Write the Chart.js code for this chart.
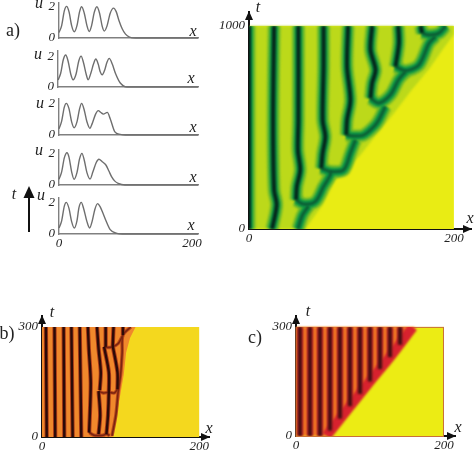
<!DOCTYPE html>
<html>
<head>
<meta charset="utf-8">
<script src="https://cdn.jsdelivr.net/npm/chart.js@4"></script>
<style>
    html, body { margin: 0; padding: 0; background: #fff; overflow: hidden; }
    canvas { position: absolute; }
    .lbl { position: absolute; transform: translate(-50%, -50%); font-family: "Liberation Serif", serif; color: #222; line-height: 1; white-space: nowrap; }
    .it { font-style: italic; font-size: 16px; }
    .pn { font-size: 18px; }
</style>
</head>
<body>
<svg style="position:absolute;left:20px;top:180px" width="18" height="56">
    <line x1="9" y1="16" x2="9" y2="52" stroke="#111" stroke-width="2"/>
    <polygon points="9,6 3.5,18 14.5,18" fill="#111"/>
</svg>
<script>
// Profile plots, u against x, top plot is the latest time
const uTicks = [0, 2];
const profileTicks = [0, 200];
const profile1 = [[0,.35],[4,.8],[8,1.75],[11.5,2.04],[15,1.7],[19,.8],[23,.4],[27,.8],[31,1.7],[34,2.02],[38,1.6],[42,.8],[45.5,.42],[49,.8],[53,1.65],[57,2.02],[61,1.6],[65,.75],[68,.45],[72,.75],[77,1.6],[82,1.93],[86,1.7],[90,1.15],[95,.6],[100,.25],[106,.06],[115,0],[209,0]];
const profile2 = [[0,.45],[4,.9],[8,1.8],[11.5,2.09],[15,1.7],[19,.85],[22.5,.47],[27,.85],[31,1.7],[34.5,2.02],[38,1.6],[42,.85],[45,.47],[49,.9],[53,1.5],[56.5,1.83],[60,1.5],[63,1],[66,.8],[70,1.15],[73,1.6],[76.5,1.87],[81,1.5],[85.7,.9],[93,.26],[103,0],[209,0]];
const profile3 = [[0,.4],[4,.9],[8,1.8],[11,2.04],[15,1.7],[19,.85],[22.7,.47],[27,.85],[31,1.7],[34,2.04],[38,1.6],[42,.85],[46.5,.43],[50,.75],[55,1.35],[59,1.57],[63,1.45],[66.7,1.35],[72.7,1.46],[77,1.05],[84,.2],[92,.04],[100,0],[209,0]];
const profile4 = [[0,.37],[4,.85],[8,1.75],[12,2.08],[15,1.8],[19,.85],[22.7,.37],[27,.8],[31,1.7],[34.5,2.04],[38,1.6],[42,.8],[46.7,.39],[51,.85],[56,1.45],[60,1.66],[65,1.5],[70.5,1.29],[75,.9],[79,.54],[84,.25],[89,.1],[99,0],[209,0]];
const profile5 = [[0,.39],[4,.85],[8,1.8],[11,2.04],[15,1.65],[19,.8],[23,.39],[27,.85],[30,1.7],[33.5,2.04],[37,1.65],[42,.8],[46,.39],[50,.85],[54,1.6],[58,1.96],[62,1.75],[66,1.35],[70,.92],[77,.28],[87,.04],[95,0],[209,0]];

// Panel a) x against t, green map
const aTicksX = [0, 200];
const aTicksT = [0, 1000];
const aFront = [[0,0],[55,0],[72,120],[84,240],[108,360],[122,450],[140,560],[158,680],[176,790],[190,890],[200,960],[200,1000]];
const aStripe0 = [[0,0],[0,1000]];
const aStripe1 = [[22.5,0],[27,118],[24.5,192],[23.5,537],[24.5,1000]];
const aStripe2 = [[46,143],[46.7,209],[50,291],[47.7,389],[48.2,537],[48.2,1000]];
const aStripe3 = [[70.6,299],[71.9,373],[74.5,455],[71.9,537],[72.8,800],[72.8,1000]];
const aStripe4 = [[95,463],[95.7,537],[99,636],[95.7,800],[96.7,1000]];
const aStripe5 = [[118.6,644],[120.2,718],[123.5,784],[118.6,882],[120.2,1000]];
const aStripe6 = [[143,800],[146.3,915],[145.7,1000]];
const aStripe7 = [[169,965],[167.6,1000]];
const aStem = [[47.7,0],[52.3,69],[58,113]];
const aArm1 = [[46,143],[53,123],[64.7,135],[72.8,209],[79.4,266],[79.4,283]];
const aArm2 = [[70.6,299],[79.4,283],[92.4,291],[99,373],[103.9,439]];
const aArm3 = [[95,463],[103.9,458],[112,463],[121.8,504],[126.7,537],[133,603]];
const aArm4 = [[118.6,644],[126.7,620],[138,661],[146,735],[152.9,776]];
const aArm5 = [[143,800],[152.9,780],[165.9,808],[175.7,915],[182,948]];
const aArm6 = [[169,965],[175.7,956],[185.5,965],[192,1000]];

// Panel b) orange map
const bTicksX = [0, 200];
const bTicksT = [0, 300];
const bFront = [[0,0],[90,0],[95,60],[100,120],[104,170],[107,230],[112,270],[119,300],[200,300]];
const bStripe1 = [[6,0],[5,300]];
const bStripe2 = [[16.8,0],[15.9,300]];
const bStripe3 = [[28.4,0],[27.5,300]];
const bStripe4 = [[39,0],[37.4,300]];
const bStripe5 = [[50,0],[48,300]];
const bStripe6 = [[60,12],[62,147],[59.6,240],[58.4,300]];
const bStripe7 = [[73.5,128],[74.8,177],[72,240],[70,300]];
const bStripe8 = [[72,8],[74,60],[72,125]];
const bStripe9 = [[82,8],[84,60],[85,122],[85,177],[79,246]];
const bStripe10 = [[96,130],[96,177],[90,248]];
const bStripe11 = [[81,246],[81,300]];
const bStripe12 = [[90,248],[91,300]];
const bStripe13 = [[103,278],[103,300]];
const bArm0 = [[60,12],[66,5],[72,4],[78,5],[82,8],[86,4]];
const bArm1 = [[89,3],[94,60],[97,125],[100,170],[102,230],[103,278],[113,300]];
const bArm2 = [[72,125],[78,120],[85,122],[92,120],[96,130]];
const bArm3 = [[79,246],[84,244],[90,246],[97,255],[103,278]];

// Panel c) red map
const cTicksX = [0, 200];
const cTicksT = [0, 300];
const cFront = [[0,0],[40,0],[47,15],[100,150],[127,217],[161,300],[200,300]];
const cEdge = [[41,0],[47,15],[100,150],[127,217],[158,300]];
const cStripe1 = [[5.4,0],[5.4,300]];
const cStripe2 = [[18.9,0],[18.9,300]];
const cStripe3 = [[32.4,0],[32.4,300]];
const cStripe4 = [[45.9,15],[45.9,300]];
const cStripe5 = [[59.4,48],[59.4,300]];
const cStripe6 = [[72.9,82],[72.9,300]];
const cStripe7 = [[86.5,116],[86.5,300]];
const cStripe8 = [[100,150],[100,300]];
const cStripe9 = [[113.5,184],[113.5,300]];
const cStripe10 = [[127,217],[127,300]];
const cStripe11 = [[140.6,251],[140.6,300]];

const serifFont = { family: '"Liberation Serif", serif', style: 'italic', size: 13 };
const toPoints = list => list.map(p => ({ x: p[0], y: p[1] }));

function addCanvas(left, top, width, height) {
    const c = document.createElement('canvas');
    c.width = width;
    c.height = height;
    c.style.left = left + 'px';
    c.style.top = top + 'px';
    document.body.appendChild(c);
    return c.getContext('2d');
}

function addLabel(text, x, y, cls) {
    const s = document.createElement('span');
    s.className = 'lbl ' + cls;
    s.textContent = text;
    s.style.left = x + 'px';
    s.style.top = y + 'px';
    document.body.appendChild(s);
}

function axisOptions(min, max, ticks, fit, color, width, showLabels, position) {
    return {
        type: 'linear',
        position: position,
        min: min,
        max: max,
        grid: { display: false, drawTicks: false, tickLength: 0 },
        border: { color: color, width: width },
        afterBuildTicks: s => { s.ticks = ticks.map(v => ({ value: v })); },
        afterFit: s => {
            if (position === 'left') s.width = fit; else s.height = fit;
            // no room for half labels, the plot box is set by hand
            s.paddingTop = s.paddingBottom = s.paddingLeft = s.paddingRight = 0;
        },
        ticks: {
            display: showLabels,
            autoSkip: false,
            maxRotation: 0,
            padding: position === 'left' ? 4 : 2,
            color: '#222',
            font: serifFont,
            callback: v => String(v)
        }
    };
}

// Small u(x) profile, the scale runs a little past 200 as the axis line does
function profileChart(data, axisLeft, axisTop, base, showX) {
    const bottomRoom = showX ? 22 : 8;
    const ctx = addCanvas(0, axisTop - 3, 202, base - axisTop + 3 + bottomRoom);
    new Chart(ctx, {
        type: 'line',
        data: {
            datasets: [{
                data: toPoints(data),
                borderColor: '#6e6e6e',
                borderWidth: 1.4,
                pointRadius: 0,
                cubicInterpolationMode: 'monotone',
                clip: 2
            }]
        },
        options: {
            responsive: false,
            animation: false,
            layout: { autoPadding: false, padding: { top: 3, right: 4 } },
            plugins: { legend: { display: false }, tooltip: { enabled: false } },
            scales: {
                x: axisOptions(0, 209, profileTicks, bottomRoom, '#808080', 1.4, showX, 'bottom'),
                y: axisOptions(0, (base - axisTop) / 15.5, uTicks, axisLeft, '#808080', 1.4, true, 'left')
            }
        }
    });
}

// Plot background up to the data limits, soft edges and arrow heads on the axes
const heatPlugin = {
    id: 'heat',
    beforeDatasetsDraw(chart, args, opts) {
        const c = chart.ctx, sx = chart.scales.x, sy = chart.scales.y;
        const l = sx.getPixelForValue(0), r = sx.getPixelForValue(opts.xEnd);
        const t = sy.getPixelForValue(opts.tEnd), b = sy.getPixelForValue(0);
        c.save();
        c.fillStyle = opts.bg;
        c.fillRect(l, t, r - l, b - t);
        if (opts.outline) {
            c.strokeStyle = opts.outline;
            c.lineWidth = 1;
            c.strokeRect(l, t + 0.5, r - l - 0.5, b - t);
        }
        c.restore();
        c.filter = 'blur(' + opts.blur + 'px)';
    },
    afterDatasetsDraw(chart) {
        chart.ctx.filter = 'none';
    },
    afterDraw(chart) {
        const c = chart.ctx, a = chart.chartArea;
        c.save();
        c.fillStyle = '#111';
        c.beginPath();
        c.moveTo(a.left, a.top - 1);
        c.lineTo(a.left - 4, a.top + 8);
        c.lineTo(a.left + 4, a.top + 8);
        c.closePath();
        c.moveTo(a.right + 1, a.bottom);
        c.lineTo(a.right - 8, a.bottom - 4);
        c.lineTo(a.right - 8, a.bottom + 4);
        c.closePath();
        c.fill();
        c.restore();
    }
};

function lineLayer(list, color, width, inset) {
    return list.map(s => ({
        data: toPoints(s),
        borderColor: color,
        borderWidth: width,
        pointRadius: 0,
        tension: 0.3,
        fill: false,
        clip: { left: 0, right: 0, bottom: 0, top: -inset }
    }));
}

function heatChart(box, limits, ticksX, ticksT, front, fillColor, bg, layers, blur, outline) {
    const ctx = addCanvas(box.left, box.top, box.width, box.height);
    const frontSet = {
        data: toPoints(front),
        borderColor: 'rgba(0,0,0,0)',
        borderWidth: 0,
        backgroundColor: fillColor,
        pointRadius: 0,
        tension: 0,
        fill: { value: limits.tEnd },
        clip: 0
    };
    // Chart.js paints the first dataset last, so the list runs top layer first
    const sets = [frontSet].concat(...layers).reverse();
    new Chart(ctx, {
        type: 'line',
        data: { datasets: sets },
        options: {
            responsive: false,
            animation: false,
            layout: { autoPadding: false, padding: { top: 4, right: 3 } },
            plugins: {
                legend: { display: false },
                tooltip: { enabled: false },
                heat: { bg: bg, xEnd: limits.xEnd, tEnd: limits.tEnd, blur: blur, outline: outline }
            },
            scales: {
                x: axisOptions(0, limits.xMax, ticksX, box.bottomRoom, '#111', 2, true, 'bottom'),
                y: axisOptions(0, limits.tMax, ticksT, box.leftRoom, '#111', 2, true, 'left')
            }
        },
        plugins: [heatPlugin]
    });
}

profileChart(profile1, 59, 3, 38, false);
profileChart(profile2, 58, 51, 87.5, false);
profileChart(profile3, 59, 99, 135, false);
profileChart(profile4, 59, 150, 185, false);
profileChart(profile5, 59, 198, 234, true);

const aStripes = [aStripe0, aStripe1, aStripe2, aStripe3, aStripe4, aStripe5, aStripe6, aStripe7];
const aArms = [aStem, aArm1, aArm2, aArm3, aArm4, aArm5, aArm6];
heatChart(
    { left: 215, top: 8, width: 259, height: 244, leftRoom: 34, bottomRoom: 23 },
    { xEnd: 200, tEnd: 1000, xMax: 216.7, tMax: 1069 },
    aTicksX, aTicksT, aFront, '#bcd91a', '#e9ec14',
    [
        lineLayer(aStripes.concat(aArms), '#6dba2c', 13, 14),
        lineLayer(aStripes.concat(aArms), '#0d9a46', 8, 14),
        lineLayer(aArms, '#0c5a34', 3, 14),
        lineLayer(aStripes, '#04241a', 4, 14)
    ],
    0.9
);

const bStripes = [bStripe1, bStripe2, bStripe3, bStripe4, bStripe5, bStripe6, bStripe7, bStripe8, bStripe9, bStripe10, bStripe11, bStripe12, bStripe13];
const bArms = [bArm0, bArm1, bArm2, bArm3];
heatChart(
    { left: 0, top: 312, width: 212, height: 140, leftRoom: 42, bottomRoom: 15 },
    { xEnd: 200, tEnd: 300, xMax: 212.5, tMax: 330 },
    bTicksX, bTicksT, bFront, '#f0882c', '#f4d81e',
    [
        lineLayer(bArms, '#b8481c', 3.4, 11),
        lineLayer(bStripes, '#a83a18', 4.2, 11),
        lineLayer(bArms, '#7a2410', 1.5, 11),
        lineLayer(bStripes, '#2c0a08', 2.4, 11)
    ],
    0.5
);

const cStripes = [cStripe1, cStripe2, cStripe3, cStripe4, cStripe5, cStripe6, cStripe7, cStripe8, cStripe9, cStripe10, cStripe11];
heatChart(
    { left: 255, top: 312, width: 203, height: 140, leftRoom: 41, bottomRoom: 16 },
    { xEnd: 200, tEnd: 300, xMax: 214.9, tMax: 330 },
    cTicksX, cTicksT, cFront, '#f47c22', '#ecec14',
    [
        lineLayer([cEdge], '#d8222e', 10, 11),
        lineLayer(cStripes, '#c0242a', 6.5, 11),
        lineLayer(cStripes, '#3e0c10', 3.6, 11)
    ],
    0.8,
    '#c8703a'
);

addLabel('a)', 13, 30, 'pn');
addLabel('b)', 7, 333, 'pn');
addLabel('c)', 255, 337, 'pn');
addLabel('u', 39, 3, 'it');
addLabel('u', 38, 54, 'it');
addLabel('u', 40, 103, 'it');
addLabel('u', 39, 150, 'it');
addLabel('u', 41, 195, 'it');
addLabel('t', 14, 194, 'it');
addLabel('x', 193, 31, 'it');
addLabel('x', 191, 78, 'it');
addLabel('x', 193, 127, 'it');
addLabel('x', 193, 177, 'it');
addLabel('x', 191, 225, 'it');
addLabel('t', 258, 7, 'it');
addLabel('x', 470, 218, 'it');
addLabel('t', 52, 312, 'it');
addLabel('x', 209, 428, 'it');
addLabel('t', 308, 311, 'it');
addLabel('x', 458, 427, 'it');
</script>
</body>
</html>
